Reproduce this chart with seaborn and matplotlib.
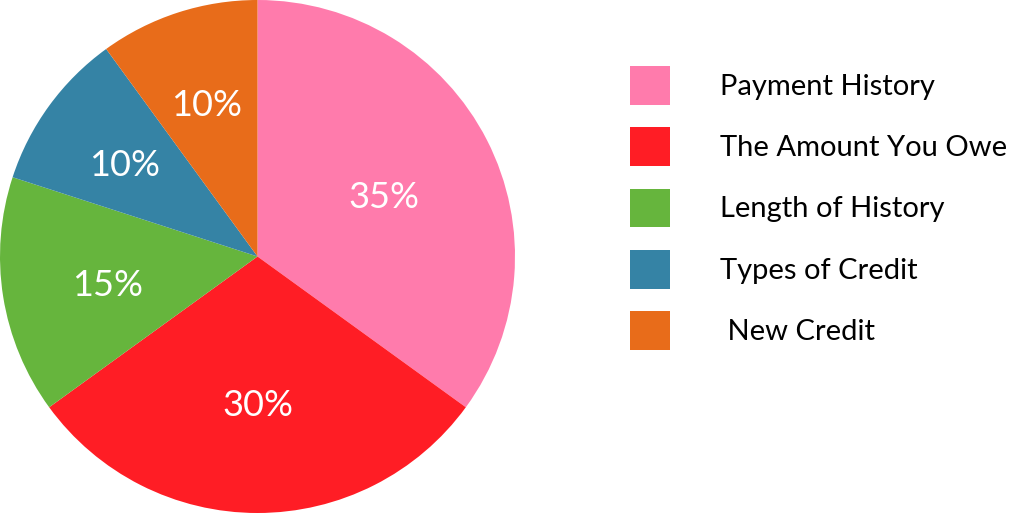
import matplotlib
matplotlib.use("Agg")
import matplotlib.pyplot as plt
import seaborn as sns
from matplotlib.patches import Patch

categories = ["Payment History", "The Amount You Owe", "Length of History", "Types of Credit", " New Credit"]
values = [35, 30, 15, 10, 10]
colors = ["#FF7BAC", "#FF1D25", "#66B53D", "#3583A5", "#E86C1A"]
label_dist = [0.55, 0.56, 0.59, 0.64, 0.64]

sns.set_theme(style="white")
plt.rcParams['font.family'] = ['Lato', 'DejaVu Sans']

fig = plt.figure(figsize=(10.15, 5.13), dpi=100)
ax = fig.add_axes([0, 0, 515/1015, 1])
wedges, texts = ax.pie(values, colors=colors, startangle=90, counterclock=False,
                       labels=[f"{v}%" for v in values], labeldistance=1.0,
                       textprops=dict(color="white", fontsize=26),
                       wedgeprops=dict(linewidth=0))
for t, d in zip(texts, label_dist):
    x, y = t.get_position()
    t.set_position((x * d, y * d - 0.02))
    t.set_ha("center"); t.set_va("center")
ax.set_xlim(-1.0, 1.0)
ax.set_ylim(-1.0, 1.0)
ax.set_aspect("auto")

handles = [Patch(facecolor=c, edgecolor="none") for c in colors]
fig.legend(handles, categories, loc="upper left", bbox_to_anchor=(630/1015, 1-66/513),
           frameon=False, handlelength=1.38, handleheight=1.67,
           handletextpad=1.7, labelspacing=0.77, borderpad=0, borderaxespad=0,
           prop=dict(size=21), labelcolor="black")

fig.savefig("out.png", dpi=100)
